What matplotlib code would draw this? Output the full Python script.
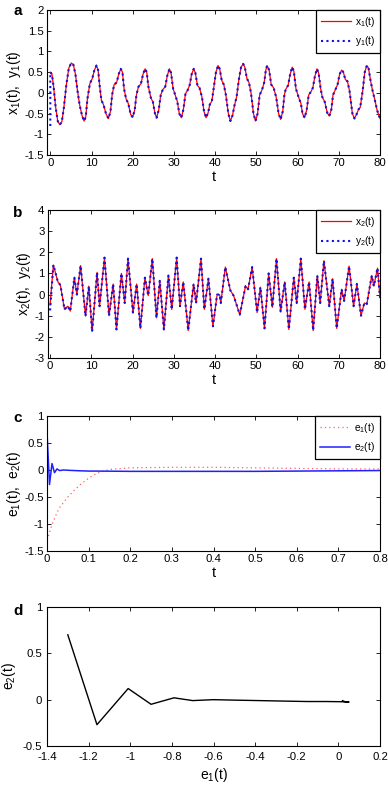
import matplotlib
matplotlib.use('Agg')
import matplotlib.pyplot as plt
from matplotlib.ticker import FuncFormatter

plt.rcParams['font.family'] = ['Liberation Sans', 'DejaVu Sans']
plt.rcParams['mathtext.fontset'] = 'custom'
plt.rcParams['mathtext.rm'] = 'Liberation Sans'
plt.rcParams['mathtext.it'] = 'Liberation Sans:italic'
plt.rcParams['mathtext.default'] = 'regular'
plt.rcParams['axes.unicode_minus'] = False

# panel a : x1(t), y1(t)
t_a = [0.0, 0.4, 0.8, 1.3, 1.8, 2.3, 2.8, 3.3, 3.9, 4.5, 5.1, 5.6, 6.1, 6.6, 7.1, 7.7, 8.2,
       8.6, 9.0, 9.6, 10.2, 10.7, 11.2, 11.6, 12.0, 12.4, 12.9, 13.5, 14.1, 14.6, 15.0, 15.5,
       16.1, 16.6, 17.1, 17.5, 17.9, 18.4, 18.9, 19.5, 20.0, 20.5, 20.9, 21.4, 22.0, 22.5, 23.0,
       23.4, 23.8, 24.4, 24.9, 25.4, 25.8, 26.3, 26.8, 27.3, 27.9, 28.4, 28.9, 29.3, 29.8, 30.3,
       30.8, 31.3, 31.8, 32.3, 32.8, 33.3, 33.8, 34.3, 34.8, 35.2, 35.7, 36.2, 36.8, 37.3, 37.8,
       38.3, 38.7, 39.2, 39.7, 40.2, 40.7, 41.1, 41.6, 42.1, 42.6, 43.2, 43.7, 44.2, 44.7, 45.2,
       45.8, 46.3, 46.8, 47.2, 47.7, 48.2, 48.7, 49.3, 49.8, 50.3, 50.8, 51.4, 51.9, 52.3, 52.6,
       53.1, 53.6, 54.2, 54.8, 55.4, 55.9, 56.4, 56.8, 57.1, 57.7, 58.2, 58.7, 59.1, 59.6, 60.3,
       60.8, 61.2, 61.7, 62.2, 62.7, 63.2, 63.7, 64.2, 64.7, 65.1, 65.6, 66.0, 66.6, 67.2, 67.7,
       68.2, 68.6, 69.1, 69.7, 70.2, 70.7, 71.1, 71.6, 72.1, 72.6, 73.3, 73.8, 74.3, 74.8, 75.2,
       75.8, 76.3, 76.8, 77.2, 77.7, 78.2, 78.7, 79.3, 80.0]
x1 = [0.50, 0.45, 0.15, -0.35, -0.68, -0.77, -0.70, -0.35, 0.20, 0.60, 0.72, 0.68, 0.45, 0.05,
      -0.28, -0.55, -0.68, -0.58, -0.15, 0.22, 0.35, 0.55, 0.66, 0.55, 0.15, -0.18, -0.28, -0.50,
      -0.62, -0.45, -0.05, 0.20, 0.25, 0.45, 0.58, 0.50, 0.10, -0.15, -0.25, -0.52, -0.59, -0.40,
      -0.05, 0.15, 0.22, 0.45, 0.58, 0.50, 0.15, -0.12, -0.22, -0.50, -0.60, -0.42, -0.05, 0.08,
      0.15, 0.42, 0.58, 0.48, 0.10, -0.05, -0.20, -0.50, -0.60, -0.40, -0.02, 0.06, 0.18, 0.45,
      0.58, 0.48, 0.18, 0.12, -0.10, -0.45, -0.60, -0.48, -0.28, -0.20, 0.15, 0.50, 0.66, 0.58,
      0.30, 0.20, -0.05, -0.50, -0.68, -0.55, -0.30, -0.10, 0.35, 0.62, 0.70, 0.62, 0.35, 0.25,
      0.00, -0.50, -0.68, -0.50, -0.05, 0.08, 0.25, 0.55, 0.66, 0.55, 0.20, 0.12, -0.10, -0.50,
      -0.64, -0.45, -0.05, 0.08, 0.18, 0.45, 0.62, 0.52, 0.10, -0.12, -0.25, -0.50, -0.60, -0.42,
      -0.05, 0.02, 0.12, 0.40, 0.58, 0.48, 0.10, -0.10, -0.22, -0.48, -0.56, -0.40, -0.05, 0.06,
      0.20, 0.45, 0.55, 0.50, 0.32, 0.28, 0.05, -0.50, -0.62, -0.52, -0.40, -0.35, 0.05, 0.50,
      0.66, 0.60, 0.30, 0.05, -0.15, -0.42, -0.62]
y1_start = -0.80

# panel b : x2(t), y2(t)
t_b = [0.0, 0.8, 1.9, 2.5, 3.5, 4.3, 4.9, 5.9, 6.5, 7.4, 8.6, 9.4, 10.2, 11.4, 12.0, 13.2,
       14.3, 15.3, 16.1, 17.3, 18.1, 18.9, 20.1, 21.0, 21.9, 23.0, 23.8, 24.8, 25.8, 26.6, 27.6,
       28.7, 29.5, 30.7, 31.5, 32.3, 33.5, 34.8, 35.4, 36.6, 37.4, 38.4, 39.5, 40.5, 41.1, 41.4,
       42.5, 43.7, 44.5, 46.0, 47.4, 48.0, 49.0, 50.2, 51.0, 52.0, 53.0, 53.9, 54.9, 55.9, 56.9,
       57.9, 59.1, 59.8, 60.8, 61.8, 62.8, 63.8, 64.8, 65.5, 66.4, 67.7, 68.5, 69.5, 70.7, 71.3,
       72.5, 73.6, 74.4, 75.4, 76.2, 76.8, 78.0, 78.5, 79.4, 80.0]
x2 = [-0.50, 1.40, 0.60, 0.45, -0.70, -0.55, -0.78, 0.80, 0.00, 1.37, -1.02, 0.40, -1.75, 1.05,
      -0.55, 1.75, -1.00, 0.50, -1.65, 1.00, -0.40, 1.70, -0.85, 0.50, -1.60, 0.80, -0.05, 1.70,
      -1.10, 0.65, -1.65, 0.90, -0.70, 1.75, -0.55, 0.60, -1.70, 0.50, -0.40, 1.70, -0.70, 0.75,
      -1.50, 0.00, 0.00, -0.40, 1.30, 0.20, -0.05, -0.95, 0.40, 0.25, 1.30, -0.85, 0.35, -1.60,
      1.00, -0.60, 1.70, -0.80, 0.60, -1.65, 0.80, -0.40, 1.70, -0.70, 0.60, -1.70, 0.90, -0.40,
      1.60, -0.55, 0.75, -1.60, 0.25, -0.30, 1.35, -0.55, 0.50, -1.00, -0.40, -0.45, 0.90, 0.40,
      1.25, -0.15]
y2_start = -0.75

# panels c and d : errors e1(t), e2(t)
t_e = [0.000, 0.006, 0.012, 0.018, 0.024, 0.030, 0.040, 0.050, 0.065, 0.080, 0.100, 0.120,
       0.150, 0.200, 0.300, 0.400, 0.500, 0.600, 0.700, 0.800]
e1 = [-1.30, -1.16, -1.01, -0.90, -0.79, -0.70, -0.60, -0.50, -0.38, -0.27, -0.15, -0.06,
      0.01, 0.04, 0.05, 0.05, 0.04, 0.03, 0.02, 0.02]
e2 = [0.70, -0.27, 0.12, -0.05, 0.02, -0.01, 0.00, -0.005, -0.01, -0.015, -0.02, -0.02,
      -0.022, -0.025, -0.025, -0.025, -0.025, -0.02, -0.015, -0.01]

fmt = FuncFormatter(lambda v, p: '%g' % round(v, 6))
dots = (0, (1, 1.6))

fig = plt.figure(figsize=(3.88, 7.88), dpi=100)


def style(ax):
    ax.tick_params(direction='in', top=True, right=True, labelsize=8.2, length=3, width=0.6,
                   pad=2.5)
    for s in ax.spines.values():
        s.set_linewidth(0.8)
    ax.xaxis.set_major_formatter(fmt)
    ax.yaxis.set_major_formatter(fmt)


def legend(ax, loc='upper right'):
    lg = ax.legend(loc=loc, fontsize=7.3, fancybox=False, framealpha=1, borderaxespad=0,
                   handlelength=3.0, handletextpad=0.4, labelspacing=0.55, borderpad=0.45)
    lg.get_frame().set_edgecolor('black')
    lg.get_frame().set_linewidth(0.9)


# a
ax = fig.add_axes([47 / 388, 1 - 155 / 788, 333 / 388, 145 / 788])
ax.plot(t_a, x1, color='red', lw=0.9, label='x$_1$(t)')
ax.plot([0.0] + t_a, [y1_start] + x1, color='#1010e0', lw=1.5, ls=dots, label='y$_1$(t)')
ax.set_xlim(-0.8, 80)
ax.set_ylim(-1.5, 2)
ax.set_xticks(range(0, 81, 10))
ax.set_yticks([-1.5, -1, -0.5, 0, 0.5, 1, 1.5, 2])
ax.set_xlabel('t', fontsize=10.5, labelpad=1)
ax.set_ylabel('x$_1$(t),  y$_1$(t)', fontsize=10, labelpad=1)
style(ax)
legend(ax)
fig.text(13 / 388, 1 - 11 / 788, 'a', fontsize=11, fontweight='bold', va='center')

# b
ax = fig.add_axes([48 / 388, 1 - 358 / 788, 332 / 388, 148 / 788])
ax.plot(t_b, x2, color='red', lw=0.9, label='x$_2$(t)')
ax.plot([0.0] + t_b[1:], [y2_start] + x2[1:], color='#1010e0', lw=1.5, ls=dots,
        label='y$_2$(t)')
ax.set_xlim(-0.5, 80)
ax.set_ylim(-3, 4)
ax.set_xticks(range(0, 81, 10))
ax.set_yticks(range(-3, 5))
ax.set_xlabel('t', fontsize=10.5, labelpad=1)
ax.set_ylabel('x$_2$(t),  y$_2$(t)', fontsize=10, labelpad=1)
style(ax)
legend(ax)
fig.text(13 / 388, 1 - 213 / 788, 'b', fontsize=11, fontweight='bold', va='center')

# c
ax = fig.add_axes([47 / 388, 1 - 551 / 788, 333 / 388, 135 / 788])
ax.plot(t_e, e1, color='#ff6060', lw=0.9, ls=(0, (1, 2.5)), label='e$_1$(t)')
ax.plot(t_e, e2, color='#2020ff', lw=1.1, label='e$_2$(t)')
ax.set_xlim(0, 0.8)
ax.set_ylim(-1.5, 1)
ax.set_xticks([0, 0.1, 0.2, 0.3, 0.4, 0.5, 0.6, 0.7, 0.8])
ax.set_yticks([-1.5, -1, -0.5, 0, 0.5, 1])
ax.set_xlabel('t', fontsize=10.5, labelpad=1)
ax.set_ylabel('e$_1$(t),  e$_2$(t)', fontsize=10, labelpad=1)
style(ax)
legend(ax)
fig.text(13 / 388, 1 - 418 / 788, 'c', fontsize=11, fontweight='bold', va='center')

# d
ax = fig.add_axes([47 / 388, 1 - 746 / 788, 333 / 388, 139 / 788])
ax.plot(e1, e2, color='black', lw=1.0)
ax.set_xlim(-1.4, 0.2)
ax.set_ylim(-0.5, 1)
ax.set_xticks([-1.4, -1.2, -1, -0.8, -0.6, -0.4, -0.2, 0, 0.2])
ax.set_yticks([-0.5, 0, 0.5, 1])
ax.set_xlabel('e$_1$(t)', fontsize=10, labelpad=3)
ax.set_ylabel('e$_2$(t)', fontsize=10, labelpad=3)
style(ax)
ax.tick_params(axis='x', pad=4)
ax.tick_params(axis='y', pad=3.5)
fig.text(13 / 388, 1 - 611 / 788, 'd', fontsize=11, fontweight='bold', va='center')

fig.savefig('out.png', dpi=100)
